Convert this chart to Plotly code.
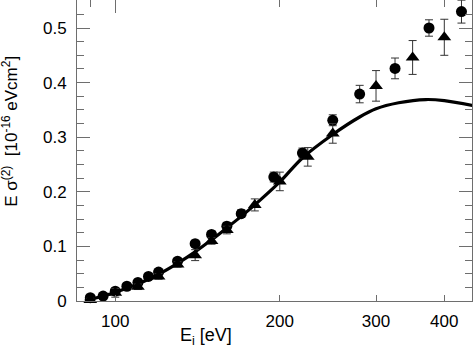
import plotly.graph_objects as go
import math

# data
circ_E = [90, 95, 100, 105, 110, 115, 120, 130, 140, 150, 160, 170, 195, 220, 250, 280, 325, 375, 430]
circ_y = [0.006, 0.009, 0.018, 0.027, 0.034, 0.045, 0.053, 0.073, 0.105, 0.122, 0.137, 0.160, 0.227, 0.271, 0.331, 0.379, 0.426, 0.500, 0.530]
circ_err = [0.003, 0.003, 0.003, 0.003, 0.003, 0.004, 0.004, 0.005, 0.006, 0.006, 0.007, 0.007, 0.009, 0.009, 0.010, 0.016, 0.019, 0.015, 0.021]

tri_E = [90, 100, 110, 120, 130, 140, 150, 160, 180, 200, 225, 250, 300, 350, 400]
tri_y = [0.002, 0.015, 0.026, 0.045, 0.067, 0.084, 0.110, 0.130, 0.176, 0.219, 0.264, 0.307, 0.394, 0.446, 0.483]
tri_err = [0.003, 0.008, 0.005, 0.005, 0.005, 0.010, 0.006, 0.007, 0.011, 0.017, 0.017, 0.018, 0.028, 0.031, 0.033]

curve_E = [88, 90, 95, 100, 110, 120, 130, 140, 150, 160, 170, 180, 200, 220, 250, 280, 300, 330, 370, 400, 450]
curve_y = [0.0, 0.003, 0.009, 0.016, 0.031, 0.049, 0.069, 0.090, 0.112, 0.134, 0.155, 0.176, 0.218, 0.262, 0.305, 0.337, 0.352, 0.363, 0.369, 0.367, 0.358]

x_ticks = [100, 200, 300, 400]
x_ticktext = ["100", "200", "300", "400"]
y_ticks = [0, 0.1, 0.2, 0.3, 0.4, 0.5]
y_ticktext = ["0", "0.1", "0.2", "0.3", "0.4", "0.5"]
top_major = [100]
top_minor = [90, 200, 300, 400]

FONT = "Liberation Sans, Arial, Helvetica, sans-serif"
AX = "#6e6e6e"

fig = go.Figure()
fig.add_trace(go.Scatter(x=curve_E, y=curve_y, mode="lines",
                         line=dict(color="black", width=3.2, shape="spline"),
                         showlegend=False, cliponaxis=True))
fig.add_trace(go.Scatter(x=circ_E, y=circ_y, mode="markers",
                         marker=dict(symbol="circle", size=11, color="black"),
                         error_y=dict(type="data", array=circ_err, color="#333", thickness=1, width=4),
                         showlegend=False, cliponaxis=False))
fig.add_trace(go.Scatter(x=tri_E, y=tri_y, mode="markers",
                         marker=dict(symbol="triangle-up", size=12, color="black"),
                         error_y=dict(type="data", array=tri_err, color="#333", thickness=1, width=4),
                         showlegend=False, cliponaxis=False))
# empty trace to activate the top axis
fig.add_trace(go.Scatter(x=[], y=[], xaxis="x2", showlegend=False))

xr = [math.log10(85.1), math.log10(449.5)]
fig.update_layout(
    width=474, height=348,
    margin=dict(l=77, r=2, t=0, b=47),
    paper_bgcolor="white", plot_bgcolor="white",
    font=dict(family=FONT, size=17, color="black"),
    xaxis=dict(type="log", range=xr, tickvals=x_ticks, ticktext=x_ticktext,
               ticks="inside", ticklen=6, tickcolor=AX, tickwidth=1,
               showline=True, linecolor=AX, linewidth=1, mirror=False,
               showgrid=False, zeroline=False, ticklabelstandoff=5),
    xaxis2=dict(type="log", range=xr, overlaying="x", side="top", anchor="y",
                tickvals=top_major, ticks="inside", ticklen=13, tickcolor=AX,
                tickwidth=1, showticklabels=False, showline=False, showgrid=False,
                zeroline=False,
                minor=dict(tickvals=top_minor, ticks="inside", ticklen=7,
                           tickcolor=AX, tickwidth=1, showgrid=False)),
    yaxis=dict(range=[0, 301/546], tickvals=y_ticks, ticktext=y_ticktext,
               ticks="inside", ticklen=13, tickcolor=AX, tickwidth=1,
               showline=True, linecolor=AX, linewidth=1, mirror="ticks",
               showgrid=False, zeroline=False, ticklabelstandoff=6,
               minor=dict(dtick=0.025, ticks="inside", ticklen=7,
                          tickcolor=AX, tickwidth=1, showgrid=False)),
    annotations=[
        dict(text="E<sub>i</sub> [eV]", xref="paper", yref="paper",
             x=0.326, y=-0.074, xanchor="center", yanchor="top",
             showarrow=False, font=dict(size=18)),
        dict(text="E σ<sup>(2)</sup>&nbsp;&nbsp;[10<sup>-16</sup> eVcm<sup>2</sup>]",
             xref="paper", yref="paper", x=-0.17, y=0.565,
             xanchor="center", yanchor="middle", textangle=-90,
             showarrow=False, font=dict(size=17)),
    ],
)

fig.write_html("out.html")
